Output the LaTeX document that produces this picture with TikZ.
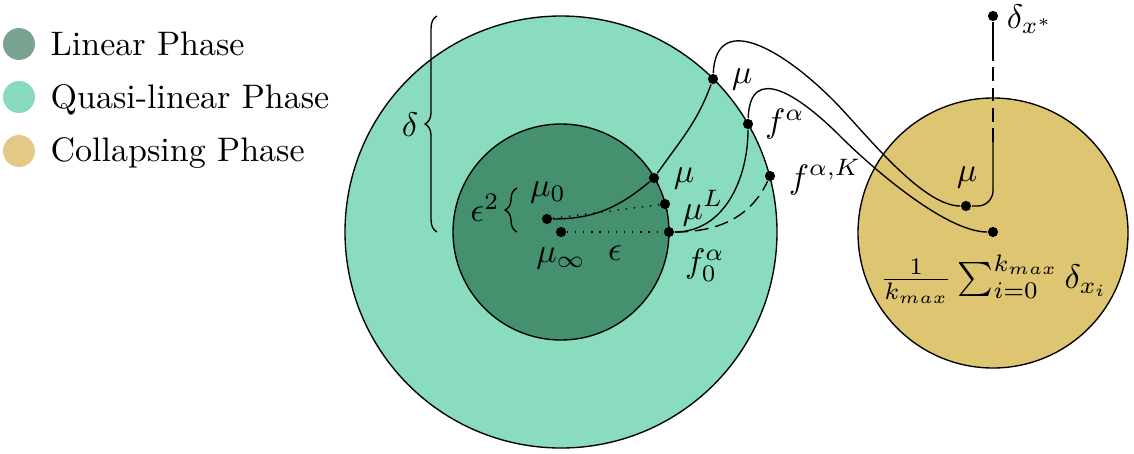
\documentclass[tikz,border=0pt]{standalone}
\usepackage{amsmath, amssymb}
\usepackage{tikz}
\usetikzlibrary{decorations.pathreplacing}

\definecolor{linearcol}{RGB}{68,144,111}
\definecolor{quasicol}{RGB}{137,220,189}
\definecolor{collapsecol}{RGB}{222,197,114}
\definecolor{linearleg}{RGB}{122,164,146}
\definecolor{quasileg}{RGB}{137,219,189}
\definecolor{collapseleg}{RGB}{226,201,133}

\begin{document}
\begin{tikzpicture}[x=0.2941pt, y=-0.2941pt]
    % Styles
    \tikzstyle{pnt} = [circle, fill=black, inner sep=0pt, minimum size=3pt]
    \tikzstyle{lbl} = [inner sep=0.5pt]
    \tikzstyle{legdot} = [circle, inner sep=0pt, minimum size=9.4pt]
    \tikzstyle{legtext} = [anchor=base west, inner sep=0pt]
    \tikzstyle{dashline} = [dash pattern=on 4pt off 2pt]
    \tikzstyle{bracket} = [decorate, decoration={brace, amplitude=3.5pt}]

    \useasboundingbox (0,0) rectangle (1134,453);

    % Legend
    \node[legdot, fill=linearleg] (leglin) at (19,44) {};
    \node[legdot, fill=quasileg] (legquasi) at (19,97) {};
    \node[legdot, fill=collapseleg] (legcoll) at (19,151) {};
    \node[legtext] (leglintxt) at (50,55) {Linear Phase};
    \node[legtext] (legquasitxt) at (50,108) {Quasi-linear Phase};
    \node[legtext] (legcolltxt) at (50,161) {Collapsing Phase};

    % Phases
    \draw[fill=quasicol] (561,232) circle (216);
    \draw[fill=linearcol] (561,232) circle (108);
    \draw[fill=collapsecol] (993,233) circle (135);

    % Nodes
    \node[pnt] (muzero) at (547,219) {};
    \node[pnt] (muinf) at (561,232) {};
    \node[pnt] (muin) at (654,178) {};
    \node[pnt] (muL) at (665,204) {};
    \node[pnt] (fzero) at (669,232) {};
    \node[pnt] (muout) at (713,79) {};
    \node[pnt] (falpha) at (748,124) {};
    \node[pnt] (falphaK) at (770,176) {};
    \node[pnt] (mucoll) at (966,206) {};
    \node[pnt] (sumpt) at (993,232) {};
    \node[pnt] (dirac) at (993,16) {};

    % Labels
    \node[lbl] (deltalbl) at (410,125) {$\delta$};
    \node[lbl] (epslbl) at (485,208) {$\epsilon^2$};
    \node[lbl] (muzerolbl) at (548,192) {$\mu_0$};
    \node[lbl] (muinflbl) at (561,258) {$\mu_\infty$};
    \node[lbl] (epsilonlbl) at (615,253) {$\epsilon$};
    \node[lbl] (muinlbl) at (684,178) {$\mu$};
    \node[lbl] (muLlbl) at (703,208) {$\mu^L$};
    \node[lbl] (fzerolbl) at (705,265) {$f_0^\alpha$};
    \node[lbl] (muoutlbl) at (742,79) {$\mu$};
    \node[lbl] (falphalbl) at (785,124) {$f^\alpha$};
    \node[lbl] (falphaKlbl) at (825,177) {$f^{\alpha,K}$};
    \node[lbl] (mucolllbl) at (967,177) {$\mu$};
    \node[lbl] (diraclbl) at (1030,19) {$\delta_{x^*}$};
    \node[lbl] (sumlbl) at (994,279) {$\frac{1}{k_{max}}\sum_{i=0}^{k_{max}}\delta_{x_i}$};

    % Braces
    \coordinate (deltatop) at (437,16);
    \coordinate (deltabot) at (437,232);
    \draw[bracket] (deltabot) -- (deltatop);
    \coordinate (epstop) at (517,188);
    \coordinate (epsbot) at (517,232);
    \draw[bracket] (epsbot) -- (epstop);

    % Paths
    \draw (muzero) to[out=0, in=220] (muin);
    \draw (muin) to[out=55, in=250] (muout);
    \coordinate (mumid) at (833,100);
    \draw (muout) .. controls (716,12) and (780,47) .. (mumid)
        .. controls (863,130) and (921,206) .. (mucoll);
    \draw (fzero) to[out=0, in=-90] (falpha);
    \coordinate (fmid) at (840,136);
    \draw (falpha) .. controls (750,62) and (800,96) .. (fmid)
        .. controls (870,166) and (945,232) .. (sumpt);
    \draw[dashline] (fzero) to[out=0, in=245] (falphaK);
    \draw[dotted] (muzero) -- (muL);
    \draw[dotted] (muinf) -- (fzero);

    % Limit
    \coordinate (dashlo) at (993,142);
    \coordinate (dashhi) at (993,60);
    \draw[rounded corners=4.5pt] (mucoll) -| (dashlo);
    \draw[dashline] (dashlo) -- (dashhi);
    \draw (dashhi) -- (dirac);
\end{tikzpicture}
\end{document}
